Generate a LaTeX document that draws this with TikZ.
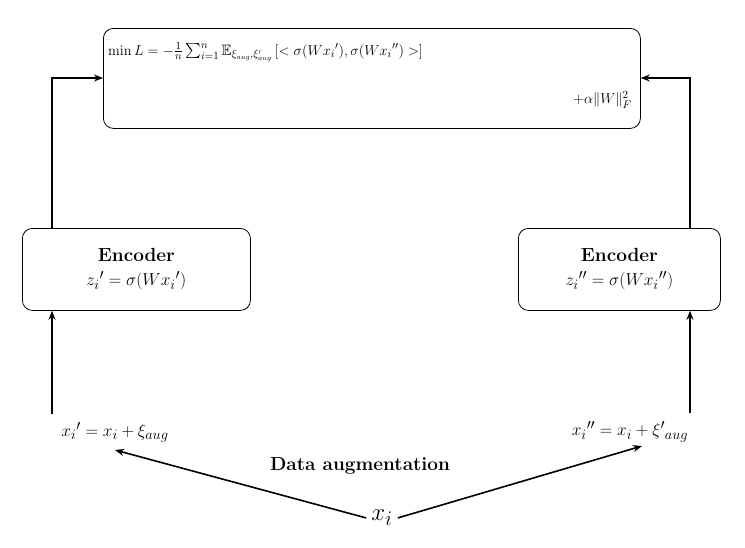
\documentclass[tikz,border=0pt]{standalone}
\usepackage{amsmath,amssymb}
\usetikzlibrary{arrows.meta}
\tikzset{
  box/.style={draw, rounded corners=10pt, line width=0.8pt},
  conn/.style={line width=1.6pt, -{Stealth[length=9pt,width=7pt]}},
  lbl/.style={inner sep=0pt, font=\fontsize{19}{22}\selectfont}
}
\begin{document}
\begin{tikzpicture}[x=1pt,y=-1pt]
\useasboundingbox (0,0) rectangle (745,547);
\node[box, minimum width=537pt, minimum height=100pt, anchor=north west] (top) at (103,28) {};
\node[anchor=west, inner sep=0pt, font=\fontsize{15}{18}\selectfont] (l1) at (108,52)
  {$\min L = -\frac{1}{n}\sum_{i=1}^{n}\mathbb{E}_{\xi_{aug},\xi'_{aug}}\left[<\sigma(W{x_i}'),\sigma(W{x_i}'')>\right]$};
\node[anchor=east, inner sep=0pt, font=\fontsize{15}{18}\selectfont] (l2) at (632,100)
  {$+\alpha\|W\|_F^2$};
\node[box, minimum width=228pt, minimum height=82pt, anchor=north west, align=center, font=\fontsize{19}{24}\selectfont] (encl) at (22,228)
  {\textbf{Encoder}\\ ${z_i}' = \sigma(W{x_i}')$};
\node[box, minimum width=202pt, minimum height=82pt, anchor=north west, align=center, font=\fontsize{19}{24}\selectfont] (encr) at (518,228)
  {\textbf{Encoder}\\ ${z_i}'' = \sigma(W{x_i}'')$};
\node[lbl] (xl) at (115,432) {${x_i}' = x_i + \xi_{aug}$};
\node[lbl] (xr) at (630,432) {${x_i}'' = x_i + {\xi'}_{aug}$};
\node[inner sep=0pt, font=\fontsize{30}{34}\selectfont] (xi) at (382,518) {$x_i$};
\node[inner sep=0pt, font=\fontsize{19}{22}\selectfont\bfseries] (da) at (360,466) {Data augmentation};
\coordinate (lt) at (52,78);
\coordinate (rt) at (690,78);
\draw[conn] (encl.north -| lt) -- (lt) -- (top.west |- lt);
\draw[conn] (encr.north -| rt) -- (rt) -- (top.east |- rt);
\draw[conn] (xl.north -| lt) ++(0,-8) -- (encl.south -| lt);
\draw[conn] (xr.north -| rt) ++(0,-8) -- (encr.south -| rt);
\draw[conn] (xi.north west) ++(-5,8) -- (115,450);
\draw[conn] (xi.north east) ++(5,8) -- (642,446);
\end{tikzpicture}
\end{document}
